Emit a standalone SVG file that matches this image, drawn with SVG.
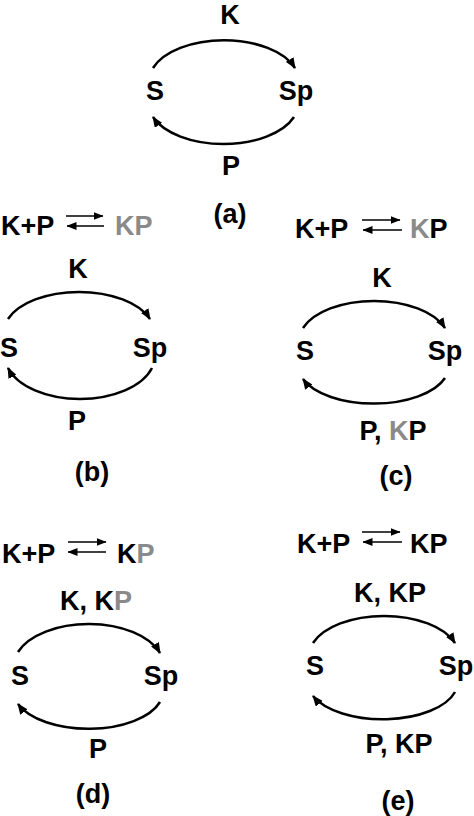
<svg xmlns="http://www.w3.org/2000/svg" width="474" height="816" viewBox="0 0 474 816">
<defs>
<style>
text{font-family:"Liberation Sans",Arial,sans-serif;font-weight:bold;font-size:27px;fill:#000}
.m{text-anchor:middle}
.g{fill:#8a8a8a}
.arc{fill:none;stroke:#000;stroke-width:2.5}
.eq{fill:none;stroke:#000;stroke-width:1.7}
</style>
<marker id="ah" markerUnits="userSpaceOnUse" markerWidth="11" markerHeight="9" refX="10" refY="4.5" orient="auto" viewBox="0 0 11 9">
<path d="M0,0 L11,4.5 L0,9 z" fill="#000"/>
</marker>
<marker id="eh" markerUnits="userSpaceOnUse" markerWidth="10" markerHeight="8" refX="9.5" refY="4" orient="auto" viewBox="0 0 10 8">
<path d="M0,0 L10,4 L0,8 z" fill="#000"/>
</marker>
</defs>
<rect width="474" height="816" fill="#fff"/>

<g id="connectors">
<!-- (a) -->
<path class="arc" d="M153,68 A75,41 0 0 1 295,68" marker-end="url(#ah)"/>
<path class="arc" d="M294,117 A75,41 0 0 1 153,117" marker-end="url(#ah)"/>
<!-- (b) -->
<path class="eq" d="M66,216 L103,216" marker-end="url(#eh)"/>
<path class="eq" d="M104,226 L67,226" marker-end="url(#eh)"/>
<path class="arc" d="M8,319 A75,40 0 0 1 150,319" marker-end="url(#ah)"/>
<path class="arc" d="M152,368 A75,43 0 0 1 8,368" marker-end="url(#ah)"/>
<!-- (c) -->
<path class="eq" d="M362,220 L400,220" marker-end="url(#eh)"/>
<path class="eq" d="M402,230 L363,230" marker-end="url(#eh)"/>
<path class="arc" d="M303,328 A75,40 0 0 1 445,328" marker-end="url(#ah)"/>
<path class="arc" d="M445,378 A75,37 0 0 1 303,379" marker-end="url(#ah)"/>
<!-- (d) -->
<path class="eq" d="M68,542 L106,542" marker-end="url(#eh)"/>
<path class="eq" d="M106,552 L68,552" marker-end="url(#eh)"/>
<path class="arc" d="M18,652 A75,42 0 0 1 160,653" marker-end="url(#ah)"/>
<path class="arc" d="M160,702 A75,38 0 0 1 18,704" marker-end="url(#ah)"/>
<!-- (e) -->
<path class="eq" d="M362,532 L400,532" marker-end="url(#eh)"/>
<path class="eq" d="M402,542 L363,542" marker-end="url(#eh)"/>
<path class="arc" d="M313,643 A75,40 0 0 1 455,643" marker-end="url(#ah)"/>
<path class="arc" d="M455,692 A75,37 0 0 1 313,696" marker-end="url(#ah)"/>
</g>

<g id="panel-a">
<g id="a-S"><text class="m" x="155" y="100">S</text></g>
<g id="a-Sp"><text class="m" x="296" y="100">Sp</text></g>
<g id="a-K"><text class="m" x="230" y="24">K</text></g>
<g id="a-P"><text class="m" x="231" y="175">P</text></g>
<g id="a-label"><text class="m" x="230" y="223">(a)</text></g>
</g>

<g id="panel-b">
<g id="b-eq"><text x="1" y="235">K+P</text><text x="115" y="235" class="g">KP</text></g>
<g id="b-S"><text class="m" x="9" y="357">S</text></g>
<g id="b-Sp"><text class="m" x="150" y="357">Sp</text></g>
<g id="b-K"><text class="m" x="78" y="278">K</text></g>
<g id="b-P"><text class="m" x="77" y="430">P</text></g>
<g id="b-label"><text class="m" x="92" y="481">(b)</text></g>
</g>

<g id="panel-c">
<g id="c-eq"><text x="295" y="238">K+P</text><text x="410" y="238"><tspan class="g">K</tspan>P</text></g>
<g id="c-S"><text class="m" x="305" y="360">S</text></g>
<g id="c-Sp"><text class="m" x="445" y="360">Sp</text></g>
<g id="c-K"><text class="m" x="382" y="287">K</text></g>
<g id="c-P"><text class="m" x="393" y="440">P, <tspan class="g">K</tspan>P</text></g>
<g id="c-label"><text class="m" x="396" y="485">(c)</text></g>
</g>

<g id="panel-d">
<g id="d-eq"><text x="2" y="563">K+P</text><text x="117" y="563">K<tspan class="g">P</tspan></text></g>
<g id="d-S"><text class="m" x="20" y="685">S</text></g>
<g id="d-Sp"><text class="m" x="161" y="685">Sp</text></g>
<g id="d-K"><text class="m" x="96" y="610">K, K<tspan class="g">P</tspan></text></g>
<g id="d-P"><text class="m" x="98" y="758">P</text></g>
<g id="d-label"><text class="m" x="93" y="803">(d)</text></g>
</g>

<g id="panel-e">
<g id="e-eq"><text x="297" y="553">K+P</text><text x="410" y="553">KP</text></g>
<g id="e-S"><text class="m" x="315" y="675">S</text></g>
<g id="e-Sp"><text class="m" x="456" y="675">Sp</text></g>
<g id="e-K"><text class="m" x="390" y="602">K, KP</text></g>
<g id="e-P"><text class="m" x="399" y="753">P, KP</text></g>
<g id="e-label"><text class="m" x="398" y="810">(e)</text></g>
</g>
</svg>
